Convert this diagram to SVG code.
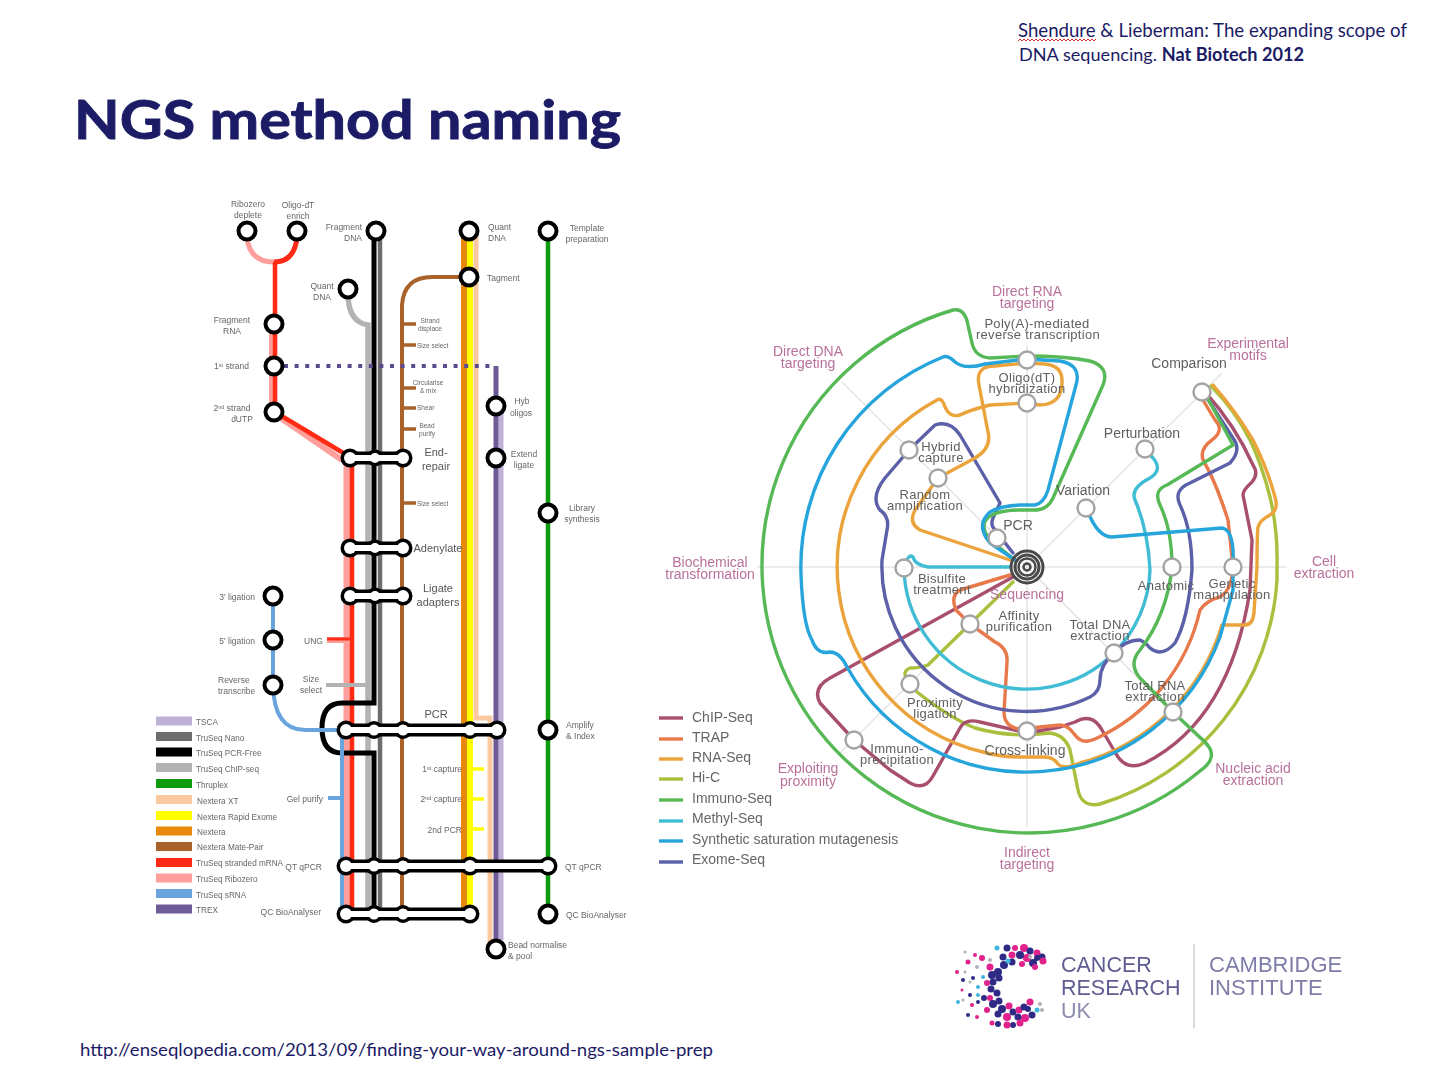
<svg xmlns="http://www.w3.org/2000/svg" width="1438" height="1078" viewBox="0 0 1438 1078">
<style>
text{font-family:"Liberation Sans",Arial,sans-serif}
.hd{font-family:Lato,"Liberation Sans",sans-serif;fill:#1b1b66}
.m{font-size:8.5px;fill:#666;text-anchor:middle}
.ms{font-size:6.5px;fill:#666;text-anchor:middle}
.s{font-size:8.5px;fill:#666}
.x{font-size:6.5px;fill:#666}
.g{font-size:8.2px;fill:#666}
.e{font-size:8.5px;fill:#666;text-anchor:end}
.b{font-size:11px;fill:#555;text-anchor:middle}
.pb{fill:none;stroke:#000;stroke-width:13;stroke-linecap:round}
.pw{fill:none;stroke:#fff;stroke-width:6;stroke-linecap:round}
.k{fill:#fff;stroke:#000;stroke-width:4}
.w{fill:#fff}
.r{fill:none;stroke-width:3.4;stroke-linecap:round;stroke-linejoin:round}
.sp{stroke:#e6e6e6;stroke-width:1.6;fill:none}
.nd{fill:#fff;stroke:#a3a3a3;stroke-width:2.4}
.t{font-size:14px;fill:#5f5f5f;text-anchor:middle}
.t2{font-size:13px;letter-spacing:.3px;fill:#5f5f5f;text-anchor:middle}
.p{font-size:14px;fill:#b9709a;text-anchor:middle}
.lg{font-size:14px;fill:#666}
.n1{fill:#2e2c86}.n2{fill:#e1248c}.n3{fill:#3fb6dc}.n4{fill:#b0b0b8}
</style>
<defs><filter id="soft" x="-5%" y="-5%" width="110%" height="110%"><feGaussianBlur stdDeviation="0.6"/></filter></defs>
<rect width="1438" height="1078" fill="#fff"/>

<g id="citation">
<text class="hd" x="1018" y="37" font-size="18.5" textLength="389" lengthAdjust="spacingAndGlyphs">Shendure &amp; Lieberman: The expanding scope of</text>
<text class="hd" x="1019" y="61" font-size="18" textLength="285" lengthAdjust="spacingAndGlyphs">DNA sequencing. <tspan font-weight="700">Nat Biotech 2012</tspan></text>
<path d="M1018,41 l2,-2 l2,2 l2,-2 l2,2 l2,-2 l2,2 l2,-2 l2,2 l2,-2 l2,2 l2,-2 l2,2 l2,-2 l2,2 l2,-2 l2,2 l2,-2 l2,2 l2,-2 l2,2 l2,-2 l2,2 l2,-2 l2,2 l2,-2 l2,2 l2,-2 l2,2 l2,-2 l2,2 l2,-2 l2,2 l2,-2 l2,2 l2,-2 l2,2 l2,-2 l2,2 l2,-2" fill="none" stroke="#d33" stroke-width="1"/>
</g>
<text id="title" class="hd" x="74" y="139" font-size="54" font-weight="700" stroke="#1b1b66" stroke-width="0.9" textLength="547" lengthAdjust="spacingAndGlyphs">NGS method naming</text>
<text id="source" class="hd" x="80" y="1056" font-size="18" textLength="633" lengthAdjust="spacingAndGlyphs">http://enseqlopedia.com/2013/09/finding-your-way-around-ngs-sample-prep</text>

<g id="metro" filter="url(#soft)">
<g id="connectors">
<path d="M247,238 Q250,262 274,262" stroke="#ff9f9b" stroke-width="5" fill="none"/>
<path d="M297,238 Q294,262 274,262" stroke="#ff2a12" stroke-width="5" fill="none"/>
<path d="M272,318 V412 L342,460" stroke="#ff9f9b" stroke-width="6" fill="none"/>
<path d="M275,262 V412 L345,454" stroke="#ff2a12" stroke-width="4.500" fill="none"/>
<path d="M347,458 V914" stroke="#ff9f9b" stroke-width="7" fill="none"/>
<path d="M352,458 V914" stroke="#ff2a12" stroke-width="4.500" fill="none"/>
<path d="M350,640 H327" stroke="#ff9f9b" stroke-width="6" fill="none"/>
<path d="M350,639 H327" stroke="#ff2a12" stroke-width="3" fill="none"/>
<path d="M348,296 Q349,322 368,325 V914" stroke="#b3b3b3" stroke-width="5.500" fill="none"/>
<path d="M368,685 H326" stroke="#b3b3b3" stroke-width="4" fill="none"/>
<path d="M380,231 V914" stroke="#6d6d6d" stroke-width="4.500" fill="none"/>
<path d="M374,231 V703 H342 Q322,703 322,728 Q322,753 342,753 H374 V914" stroke="#000" stroke-width="5" fill="none"/>
<path d="M402,914 V305 Q404,277 432,277 H469" stroke="#a9622a" stroke-width="4" fill="none"/>
<path d="M402,324 H416 M402,345 H416 M402,388 H416 M402,408 H416 M402,429 H416 M402,503 H416" stroke="#a9622a" stroke-width="3.500" fill="none"/>
<path d="M476,231 V718 H490 V949" stroke="#fac99f" stroke-width="5" fill="none"/>
<path d="M464,231 V914" stroke="#e8880c" stroke-width="6" fill="none"/>
<path d="M470,231 V914" stroke="#ffff00" stroke-width="6" fill="none"/>
<path d="M470,769 H484 M470,799 H484 M470,829 H484" stroke="#ffff00" stroke-width="3.500" fill="none"/>
<path d="M501,406 V940" stroke="#bdb2d6" stroke-width="5" fill="none"/>
<path d="M496,366 V949" stroke="#6d5a96" stroke-width="5" fill="none"/>
<path d="M284,366 H496" stroke="#5c4a8e" stroke-width="4" stroke-dasharray="4,6.6" fill="none"/>
<path d="M548,231 V914" stroke="#0a9a10" stroke-width="4.500" fill="none"/>
<path d="M273,596 V685 Q274,730 305,730 H342 M342,730 V914" stroke="#6ba4de" stroke-width="4" fill="none"/>
<path d="M342,798 H328" stroke="#6ba4de" stroke-width="4" fill="none"/>
</g>

<g id="n-ribozero"><circle class="k" cx="247" cy="231" r="8.5"/><text class="m" x="248" y="207">Ribozero</text><text class="m" x="248" y="218">deplete</text></g>
<g id="n-oligo"><circle class="k" cx="297" cy="231" r="8.5"/><text class="m" x="298" y="208">Oligo-dT</text><text class="m" x="298" y="219">enrich</text></g>
<g id="n-frag-dna"><circle class="k" cx="376" cy="231" r="8.5"/><text class="e" x="362" y="230">Fragment</text><text class="e" x="362" y="241">DNA</text></g>
<g id="n-quant-top"><circle class="k" cx="469" cy="231" r="8.5"/><text class="s" x="488" y="230">Quant</text><text class="s" x="488" y="241">DNA</text></g>
<g id="n-template"><circle class="k" cx="548" cy="231" r="8.5"/><text class="m" x="587" y="231">Template</text><text class="m" x="587" y="242">preparation</text></g>
<g id="n-tagment"><circle class="k" cx="469" cy="277" r="8.5"/><text class="s" x="487" y="281">Tagment</text></g>
<g id="n-quant"><circle class="k" cx="348" cy="289" r="8.5"/><text class="m" x="322" y="289">Quant</text><text class="m" x="322" y="300">DNA</text></g>
<g id="n-frag-rna"><circle class="k" cx="274" cy="324" r="8.5"/><text class="m" x="232" y="323">Fragment</text><text class="m" x="232" y="334">RNA</text></g>
<g id="n-first"><circle class="k" cx="274" cy="366" r="8.5"/><text class="s" x="214" y="369">1<tspan dy="-2" font-size="5.5">st</tspan><tspan dy="2"> strand</tspan></text></g>
<g id="n-second"><circle class="k" cx="274" cy="412" r="8.5"/><text class="m" x="232" y="411">2<tspan dy="-2" font-size="5.5">nd</tspan><tspan dy="2"> strand</tspan></text><text class="m" x="242" y="422">dUTP</text></g>
<g id="n-hyb"><circle class="k" cx="496" cy="406" r="8.5"/><text class="m" x="522" y="404">Hyb</text><text class="m" x="521" y="416">oligos</text></g>
<g id="n-extend"><circle class="k" cx="496" cy="458" r="8.5"/><text class="m" x="524" y="457">Extend</text><text class="m" x="524" y="468">ligate</text></g>
<g id="n-library"><circle class="k" cx="548" cy="513" r="8.5"/><text class="m" x="582" y="511">Library</text><text class="m" x="582" y="522">synthesis</text></g>
<g id="n-3lig"><circle class="k" cx="273" cy="596" r="8.5"/><text class="e" x="255" y="600">3' ligation</text></g>
<g id="n-5lig"><circle class="k" cx="273" cy="640" r="8.5"/><text class="e" x="255" y="644">5' ligation</text></g>
<g id="n-rt"><circle class="k" cx="273" cy="685" r="8.5"/><text class="s" x="218" y="683">Reverse</text><text class="s" x="218" y="694">transcribe</text></g>
<g id="n-amplify"><circle class="k" cx="548" cy="730" r="8.5"/><text class="s" x="566" y="728">Amplify</text><text class="s" x="566" y="739">&amp; Index</text></g>
<g id="n-qc2"><circle class="k" cx="548" cy="914" r="8.5"/><text class="s" x="566" y="918">QC BioAnalyser</text></g>
<g id="n-bead"><circle class="k" cx="496" cy="949" r="8.5"/><text class="s" x="508" y="948">Bead normalise</text><text class="s" x="508" y="959">&amp; pool</text></g>

<g id="n-endrepair"><path class="pb" d="M350,458 H403"/><circle cx="350" cy="458" r="9.5"/><circle cx="375" cy="458" r="8.5"/><circle cx="403" cy="458" r="9.5"/><path class="pw" d="M350,458 H403"/><circle class="w" cx="350" cy="458" r="6"/><circle class="w" cx="375" cy="458" r="5"/><circle class="w" cx="403" cy="458" r="6"/><text class="b" x="436" y="456">End-</text><text class="b" x="436" y="470">repair</text></g>
<g id="n-adenylate"><path class="pb" d="M350,548 H403"/><circle cx="350" cy="548" r="9.5"/><circle cx="375" cy="548" r="8.5"/><circle cx="403" cy="548" r="9.5"/><path class="pw" d="M350,548 H403"/><circle class="w" cx="350" cy="548" r="6"/><circle class="w" cx="375" cy="548" r="5"/><circle class="w" cx="403" cy="548" r="6"/><text class="b" x="438" y="552">Adenylate</text></g>
<g id="n-ligate"><path class="pb" d="M350,596 H403"/><circle cx="350" cy="596" r="9.5"/><circle cx="375" cy="596" r="8.5"/><circle cx="403" cy="596" r="9.5"/><path class="pw" d="M350,596 H403"/><circle class="w" cx="350" cy="596" r="6"/><circle class="w" cx="375" cy="596" r="5"/><circle class="w" cx="403" cy="596" r="6"/><text class="b" x="438" y="592">Ligate</text><text class="b" x="438" y="606">adapters</text></g>
<g id="n-pcr"><path class="pb" d="M346,730 H497"/><circle cx="346" cy="730" r="9.5"/><circle cx="374" cy="730" r="9"/><circle cx="403" cy="730" r="9"/><circle cx="470" cy="730" r="9"/><circle cx="497" cy="730" r="9.5"/><path class="pw" d="M346,730 H497"/><circle class="w" cx="346" cy="730" r="6"/><circle class="w" cx="374" cy="730" r="5.5"/><circle class="w" cx="403" cy="730" r="5.5"/><circle class="w" cx="470" cy="730" r="5.5"/><circle class="w" cx="497" cy="730" r="6"/><text class="b" x="436" y="718">PCR</text></g>
<g id="n-qt"><path class="pb" d="M346,866 H548"/><circle cx="346" cy="866" r="9.5"/><circle cx="374" cy="866" r="9"/><circle cx="403" cy="866" r="9"/><circle cx="470" cy="866" r="9.5"/><circle cx="548" cy="866" r="9.5"/><path class="pw" d="M346,866 H548"/><circle class="w" cx="346" cy="866" r="6"/><circle class="w" cx="374" cy="866" r="5.5"/><circle class="w" cx="403" cy="866" r="5.5"/><circle class="w" cx="470" cy="866" r="6"/><circle class="w" cx="548" cy="866" r="6"/><text class="e" x="322" y="870">QT qPCR</text><text class="s" x="565" y="870">QT qPCR</text></g>
<g id="n-qc"><path class="pb" d="M346,914 H470"/><circle cx="346" cy="914" r="9.5"/><circle cx="374" cy="914" r="9"/><circle cx="403" cy="914" r="9"/><circle cx="470" cy="914" r="9.5"/><path class="pw" d="M346,914 H470"/><circle class="w" cx="346" cy="914" r="6"/><circle class="w" cx="374" cy="914" r="5.5"/><circle class="w" cx="403" cy="914" r="5.5"/><circle class="w" cx="470" cy="914" r="6"/><text class="e" x="321" y="915">QC BioAnalyser</text></g>

<g id="metro-labels">
<text class="ms" x="430" y="323">Strand</text><text class="ms" x="430" y="331">displace</text>
<text class="x" x="417" y="348">Size select</text>
<text class="ms" x="428" y="385">Circularise</text><text class="ms" x="428" y="393">&amp; mix</text>
<text class="x" x="417" y="410">Shear</text>
<text class="ms" x="427" y="428">Bead</text><text class="ms" x="427" y="436">purify</text>
<text class="x" x="417" y="506">Size select</text>
<text class="s" x="304" y="644">UNG</text>
<text class="m" x="311" y="682">Size</text><text class="m" x="311" y="693">select</text>
<text class="e" x="462" y="772">1<tspan dy="-2" font-size="5.5">st</tspan><tspan dy="2"> capture</tspan></text>
<text class="e" x="462" y="802">2<tspan dy="-2" font-size="5.5">nd</tspan><tspan dy="2"> capture</tspan></text>
<text class="e" x="462" y="833">2nd PCR</text>
<text class="e" x="323" y="802">Gel purify</text>
</g>

<g id="metro-legend">
<rect x="156" y="716.500" width="36" height="9" fill="#bdb2d6"/><text class="g" x="196" y="725">TSCA</text>
<rect x="156" y="732" width="36" height="9" fill="#6d6d6d"/><text class="g" x="196" y="741">TruSeq Nano</text>
<rect x="156" y="747.500" width="36" height="9" fill="#000"/><text class="g" x="196" y="756">TruSeq PCR-Free</text>
<rect x="156" y="763" width="36" height="9" fill="#b3b3b3"/><text class="g" x="196" y="772">TruSeq ChIP-seq</text>
<rect x="156" y="779" width="36" height="9" fill="#0a9a10"/><text class="g" x="196" y="788">Thruplex</text>
<rect x="156" y="795" width="36" height="9" fill="#fac99f"/><text class="g" x="197" y="804">Nextera XT</text>
<rect x="156" y="811" width="36" height="9" fill="#ffff00"/><text class="g" x="197" y="820">Nextera Rapid Exome</text>
<rect x="156" y="826.500" width="36" height="9" fill="#e8880c"/><text class="g" x="197" y="835">Nextera</text>
<rect x="156" y="842" width="36" height="9" fill="#a9622a"/><text class="g" x="197" y="850">Nextera Mate-Pair</text>
<rect x="156" y="858" width="36" height="9" fill="#ff2a12"/><text class="g" x="196" y="866">TruSeq stranded mRNA</text>
<rect x="156" y="873.500" width="36" height="9" fill="#ff9f9b"/><text class="g" x="196" y="882">TruSeq Ribozero</text>
<rect x="156" y="889" width="36" height="9" fill="#6ba4de"/><text class="g" x="196" y="898">TruSeq sRNA</text>
<rect x="156" y="904.500" width="36" height="9" fill="#6d5a96"/><text class="g" x="196" y="913">TREX</text>
</g>
</g>

<g id="circle" filter="url(#soft)">
<g id="spokes">
<path class="sp" d="M1027,345 V827 M757,567 H1287 M842,382 L1207,747 M1222,373 L840,753"/>
</g>
<g id="connectors-circle">
<path class="r" stroke="#a8c03c" d="M1013,582 L970,624 L928,665 Q920,668 910,668 Q900,672 910,684 L917,692 Q950,718 975,728 Q1000,735 1027,735 L1050,733 Q1065,735 1070,750 L1078,790 Q1082,808 1100,804 A250,250 0 0 0 1277,580 L1277,567 Q1278,530 1270,497 Q1262,465 1250,440 Q1235,410 1211,386"/>
<path class="r" stroke="#a8506e" d="M1013,577 L830,678 Q812,688 820,703 L854,740 L890,770 L910,783 Q925,791 933,776 L960,728 Q965,718 980,722 L1027,733 L1060,727 L1075,722 Q1092,712 1102,730 L1115,752 Q1125,772 1145,763 Q1230,720 1250,590 L1252,540 L1243,495 Q1243,490 1252,482 Q1259,474 1253,465 Q1235,425 1205,392"/>
<path class="r" stroke="#e8794c" d="M1010,575 L960,590 Q950,596 956,610 L970,624 L995,642 Q1008,648 1007,662 L1004,712 Q1004,727 1020,729 L1060,725 Q1068,725 1075,735 Q1082,745 1095,739 A187,187 0 0 0 1200,610 Q1207,600 1220,597 Q1232,590 1233,567 L1228,520 Q1215,480 1204,462 Q1198,450 1212,440 Q1225,430 1215,420 L1200,395"/>
<path class="r" stroke="#41bdd5" d="M1010,567 L928,567 Q915,565 913,557 Q908,553 904,568 A123,123 0 0 0 1114,653 A123,123 0 0 0 1150,570 Q1148,530 1135,500 Q1130,488 1150,478 Q1163,470 1153,458 L1145,449"/>
<path class="r" stroke="#5b60a8" d="M1013,553 L995,530 Q990,525 993,518 L1000,503 L960,435 Q950,420 935,425 L909,450 L885,478 Q870,497 880,510 Q890,517 887,530 L882,560 A145,145 0 0 0 1090,697 Q1100,692 1100,680 Q1100,665 1114,653 Q1125,640 1140,640 Q1145,642 1150,648 Q1162,658 1175,643 Q1188,620 1192,570 Q1192,530 1180,505 Q1173,490 1190,483 L1230,463 Q1242,450 1233,438 L1205,395"/>
<path class="r" stroke="#57b957" d="M1015,560 L990,540 Q978,525 990,516 Q1000,510 1020,510 L1037,510 Q1048,509 1053,498 L1103,385 Q1110,367 1090,361 Q1065,356 1027,356 L990,358 Q975,357 972,343 L968,325 Q965,308 953,310 A267,267 0 1 0 1200,771 Q1220,757 1205,742 L1173,712 L1140,678 Q1128,664 1140,650 Q1167,615 1172,567 Q1172,530 1160,505 Q1153,490 1167,485 L1233,445 L1207,397"/>
<path class="r" stroke="#eba33b" d="M1010,560 L920,530 Q908,523 915,510 L938,478 L975,458 Q992,448 988,432 L979,385 Q975,366 995,366 L1027,363 L1045,364 Q1062,366 1062,380 Q1063,404 1040,405 L1027,403 L990,405 Q970,410 960,415 Q950,418 945,407 Q942,397 937,400 A190,190 0 0 0 983,752 Q1000,757 1020,757 L1045,757 Q1053,757 1058,764 Q1063,770 1080,763 A203,203 0 0 0 1222,625 Q1226,625 1245,625 Q1253,625 1254,612 L1257,567 Q1257,535 1258,527 Q1260,520 1270,515 Q1279,510 1275,497 Q1268,470 1253,440 Q1235,410 1213,385"/>
<path class="r" stroke="#27a4dc" d="M1015,560 L990,543 Q975,525 990,512 Q1000,506 1020,505 L1035,505 Q1044,503 1048,490 L1076,385 Q1082,365 1060,361 L1027,359 L985,364 Q965,370 955,362 Q948,355 943,357 A226,226 0 0 0 801,575 Q803,625 812,640 Q817,655 830,652 Q840,652 847,667 A206,206 0 0 0 1220,637 L1233,590 L1233,567 Q1235,530 1222,528 L1112,537 Q1098,537 1088,512"/>
</g>
<g id="hub" fill="none" stroke="#4a4a4a"><circle cx="1027" cy="567" r="16" stroke-width="3"/><circle cx="1027" cy="567" r="12" stroke-width="3"/><circle cx="1027" cy="567" r="8.500" stroke-width="2.500"/><circle cx="1027" cy="567" r="3.500" stroke-width="2.500"/></g>

<g id="c-polya"><circle class="nd" cx="1027" cy="360" r="8.5"/><text class="t2" x="1037" y="328">Poly(A)-mediated</text><text class="t2" x="1038" y="339">reverse transcription</text></g>
<g id="c-oligo"><circle class="nd" cx="1027" cy="403" r="8.5"/><text class="t2" x="1027" y="382">Oligo(dT)</text><text class="t2" x="1027" y="393">hybridization</text></g>
<g id="c-hybrid"><circle class="nd" cx="909" cy="450" r="8.5"/><text class="t2" x="941" y="451">Hybrid</text><text class="t2" x="941" y="462">capture</text></g>
<g id="c-random"><circle class="nd" cx="938" cy="478" r="8.5"/><text class="t2" x="925" y="499">Random</text><text class="t2" x="925" y="510">amplification</text></g>
<g id="c-pcr"><circle class="nd" cx="997" cy="538" r="8.5"/><text class="t" x="1018" y="530">PCR</text></g>
<g id="c-bisulfite"><circle class="nd" cx="904" cy="568" r="8.5"/><text class="t2" x="942" y="583">Bisulfite</text><text class="t2" x="942" y="594">treatment</text></g>
<g id="c-variation"><circle class="nd" cx="1086" cy="508" r="8.5"/><text class="t" x="1083" y="495">Variation</text></g>
<g id="c-perturbation"><circle class="nd" cx="1145" cy="449" r="8.5"/><text class="t" x="1142" y="438">Perturbation</text></g>
<g id="c-comparison"><circle class="nd" cx="1202" cy="392" r="8.5"/><text class="t" x="1189" y="368">Comparison</text></g>
<g id="c-anatomic"><circle class="nd" cx="1172" cy="567" r="8.5"/><text class="t2" x="1166" y="590">Anatomic</text></g>
<g id="c-genetic"><circle class="nd" cx="1233" cy="567" r="8.5"/><text class="t2" x="1232" y="588">Genetic</text><text class="t2" x="1232" y="599">manipulation</text></g>
<g id="c-totaldna"><circle class="nd" cx="1114" cy="653" r="8.5"/><text class="t2" x="1100" y="629">Total DNA</text><text class="t2" x="1100" y="640">extraction</text></g>
<g id="c-totalrna"><circle class="nd" cx="1173" cy="712" r="8.5"/><text class="t2" x="1155" y="690">Total RNA</text><text class="t2" x="1155" y="701">extraction</text></g>
<g id="c-crosslink"><circle class="nd" cx="1027" cy="731" r="8.5"/><text class="t" x="1025" y="755">Cross-linking</text></g>
<g id="c-affinity"><circle class="nd" cx="970" cy="624" r="8.5"/><text class="t2" x="1019" y="620">Affinity</text><text class="t2" x="1019" y="631">purification</text></g>
<g id="c-proximity"><circle class="nd" cx="910" cy="684" r="8.5"/><text class="t2" x="935" y="707">Proximity</text><text class="t2" x="935" y="718">ligation</text></g>
<g id="c-immuno"><circle class="nd" cx="854" cy="740" r="8.5"/><text class="t2" x="897" y="753">Immuno-</text><text class="t2" x="897" y="764">precipitation</text></g>

<g id="themes">
<text class="p" x="1027" y="296">Direct RNA</text><text class="p" x="1027" y="308">targeting</text>
<text class="p" x="1248" y="348">Experimental</text><text class="p" x="1248" y="360">motifs</text>
<text class="p" x="808" y="356">Direct DNA</text><text class="p" x="808" y="368">targeting</text>
<text class="p" x="710" y="567">Biochemical</text><text class="p" x="710" y="579">transformation</text>
<text class="p" x="1324" y="566">Cell</text><text class="p" x="1324" y="578">extraction</text>
<text class="p" x="1027" y="599">Sequencing</text>
<text class="p" x="808" y="773">Exploiting</text><text class="p" x="808" y="786">proximity</text>
<text class="p" x="1027" y="857">Indirect</text><text class="p" x="1027" y="869">targeting</text>
<text class="p" x="1253" y="773">Nucleic acid</text><text class="p" x="1253" y="785">extraction</text>
</g>

<g id="circle-legend" stroke-width="3.400">
<path d="M659,718 H683" stroke="#a8506e"/><text class="lg" x="692" y="722">ChIP-Seq</text>
<path d="M659,739 H683" stroke="#e8794c"/><text class="lg" x="692" y="742">TRAP</text>
<path d="M659,759 H683" stroke="#eba33b"/><text class="lg" x="692" y="762">RNA-Seq</text>
<path d="M659,779 H683" stroke="#a8c03c"/><text class="lg" x="692" y="782">Hi-C</text>
<path d="M659,800 H683" stroke="#57b957"/><text class="lg" x="692" y="803">Immuno-Seq</text>
<path d="M659,821 H683" stroke="#41bdd5"/><text class="lg" x="692" y="823">Methyl-Seq</text>
<path d="M659,841 H683" stroke="#27a4dc"/><text class="lg" x="692" y="844">Synthetic saturation mutagenesis</text>
<path d="M659,862 H683" stroke="#5b60a8"/><text class="lg" x="692" y="864">Exome-Seq</text>
</g>
</g>

<g id="logo" filter="url(#soft)">
<g id="logo-dots">
<circle class="n3" cx="997" cy="948" r="2.500"/><circle class="n1" cx="1007" cy="948" r="3.500"/><circle class="n2" cx="1015" cy="948" r="3"/><circle class="n2" cx="1024" cy="948" r="4"/><circle class="n1" cx="1030" cy="951" r="3.500"/><circle class="n2" cx="1037" cy="953" r="3.500"/><circle class="n1" cx="1042" cy="957" r="3.500"/><circle class="n2" cx="1043" cy="961" r="3.500"/><circle class="n1" cx="1033" cy="963" r="4"/><circle class="n2" cx="1027" cy="958" r="4"/><circle class="n1" cx="1020" cy="955" r="4"/><circle class="n2" cx="1012" cy="955" r="3.500"/><circle class="n1" cx="1003" cy="957" r="3.500"/><circle class="n1" cx="1012" cy="962" r="3.500"/><circle class="n1" cx="1004" cy="965" r="4"/><circle class="n2" cx="1022" cy="964" r="3"/><circle class="n1" cx="1037" cy="958" r="3"/><circle class="n2" cx="1035" cy="967" r="3"/><circle class="n4" cx="990" cy="960" r="2"/><circle class="n2" cx="982" cy="958" r="3"/><circle class="n2" cx="975" cy="955" r="2"/><circle class="n2" cx="968" cy="962" r="2.500"/><circle class="n2" cx="990" cy="967" r="3.500"/><circle class="n1" cx="998" cy="972" r="4"/><circle class="n1" cx="992" cy="975" r="4"/><circle class="n1" cx="999" cy="978" r="3.500"/><circle class="n1" cx="993" cy="982" r="3.500"/><circle class="n2" cx="987" cy="983" r="3"/><circle class="n3" cx="983" cy="977" r="2"/><circle class="n4" cx="977" cy="967" r="2"/><circle class="n1" cx="973" cy="978" r="2"/><circle class="n4" cx="965" cy="972" r="1.500"/><circle class="n4" cx="965" cy="952" r="1.500"/><circle class="n2" cx="957" cy="972" r="2"/><circle class="n1" cx="963" cy="980" r="2"/><circle class="n4" cx="970" cy="982" r="1.500"/><circle class="n3" cx="978" cy="987" r="2"/><circle class="n1" cx="991" cy="989" r="3.500"/><circle class="n1" cx="997" cy="993" r="3.500"/><circle class="n2" cx="990" cy="998" r="3"/><circle class="n1" cx="984" cy="998" r="3"/><circle class="n3" cx="978" cy="995" r="2"/><circle class="n1" cx="970" cy="995" r="2"/><circle class="n2" cx="962" cy="990" r="1.500"/><circle class="n4" cx="963" cy="1000" r="1.500"/><circle class="n2" cx="972" cy="1005" r="2"/><circle class="n1" cx="978" cy="1002" r="2"/><circle class="n3" cx="958" cy="1002" r="2"/><circle class="n1" cx="968" cy="1015" r="2"/><circle class="n2" cx="977" cy="1017" r="2"/><circle class="n1" cx="993" cy="1004" r="4"/><circle class="n1" cx="999" cy="1001" r="3.500"/><circle class="n1" cx="1002" cy="1009" r="4"/><circle class="n2" cx="1009" cy="1006" r="3.500"/><circle class="n1" cx="998" cy="1014" r="3.500"/><circle class="n2" cx="1007" cy="1017" r="4"/><circle class="n1" cx="1013" cy="1012" r="3.500"/><circle class="n2" cx="1019" cy="1010" r="3.500"/><circle class="n1" cx="1024" cy="1007" r="3.500"/><circle class="n2" cx="1030" cy="1002" r="3.500"/><circle class="n1" cx="1028" cy="1009" r="3"/><circle class="n3" cx="1037" cy="1010" r="2.500"/><circle class="n4" cx="1042" cy="1010" r="2"/><circle class="n1" cx="1032" cy="1015" r="3.500"/><circle class="n2" cx="1025" cy="1018" r="4"/><circle class="n1" cx="1018" cy="1017" r="3.500"/><circle class="n2" cx="1020" cy="1023" r="3.500"/><circle class="n1" cx="1013" cy="1025" r="3"/><circle class="n2" cx="1007" cy="1025" r="3.500"/><circle class="n1" cx="998" cy="1024" r="3"/><circle class="n2" cx="992" cy="1023" r="2.500"/><circle class="n2" cx="987" cy="1010" r="3"/><circle class="n4" cx="1040" cy="1004" r="2"/><circle class="n4" cx="1030" cy="957" r="2"/><circle class="n3" cx="1008" cy="961" r="2.500"/>
</g>
<text x="1061" y="972" font-size="21.500" fill="#5f5d92">CANCER</text>
<text x="1061" y="995" font-size="21.500" fill="#5f5d92">RESEARCH</text>
<text x="1061" y="1018" font-size="21.500" fill="#8c8bb0">UK</text>
<path d="M1194,944 V1028" stroke="#cfcfcf" stroke-width="1.500"/>
<text x="1209" y="972" font-size="22" fill="#7e7da8">CAMBRIDGE</text>
<text x="1209" y="995" font-size="22" fill="#7e7da8">INSTITUTE</text>
</g>
</svg>
